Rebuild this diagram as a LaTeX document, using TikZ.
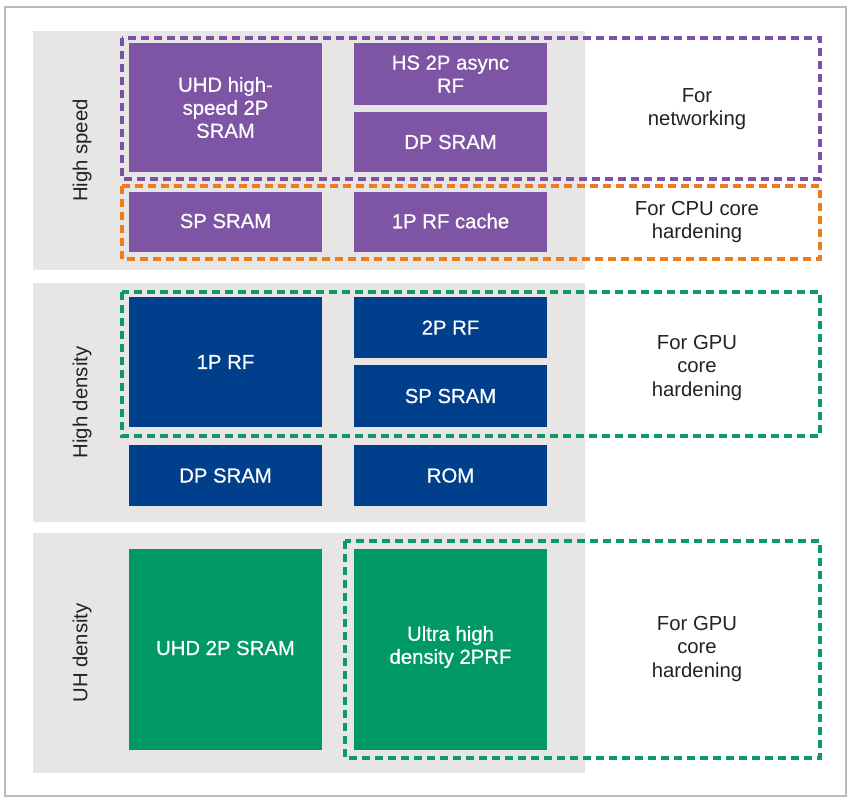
\documentclass[tikz,border=0pt]{standalone}
\usepackage{fontspec}
\setmainfont{Liberation Sans}
\newfontfamily\medfont[FakeBold=0.6]{Liberation Sans}
\definecolor{panelgray}{HTML}{E7E6E4}
\definecolor{borderg}{HTML}{BBBBBB}
\definecolor{hspurple}{HTML}{7D55A4}
\definecolor{hdblue}{HTML}{003F8C}
\definecolor{uhgreen}{HTML}{009966}
\definecolor{dpurple}{HTML}{7B4FAA}
\definecolor{dorange}{HTML}{F07C19}
\definecolor{dgreen}{HTML}{0E9966}
\definecolor{txt}{HTML}{222222}
\tikzset{
  panel/.style={fill=panelgray,draw=none},
  blk/.style={draw=none,text=white,font=\medfont\fontsize{20.3}{23}\selectfont,align=center,inner sep=0pt},
  dbox/.style={line width=3.2pt,dash pattern=on 8pt off 5pt},
  side/.style={text=txt,font=\fontsize{20.3}{23.5}\selectfont,align=center},
  rot/.style={text=txt,font=\fontsize{20.3}{23}\selectfont,rotate=90}
}
\begin{document}
\begin{tikzpicture}[x=1pt,y=-1pt]
\useasboundingbox (0,0) rectangle (850,801);
\draw[borderg,line width=2pt] (5,7) rectangle (846,796);
% panels
\fill[panelgray] (33,31) rectangle (585,270);
\fill[panelgray] (33,283) rectangle (585,522);
\fill[panelgray] (33,533) rectangle (585,773);
\node[rot] (lhs) at (82,150.5) {High speed};
\node[rot] (lhd) at (82,402.5) {High density};
\node[rot] (luh) at (82,653) {UH density};
% high speed blocks
\fill[hspurple] (129,43) rectangle (322,172);
\node[blk] (uhd) at (225.5,107.5) {UHD high-\\speed 2P\\SRAM};
\fill[hspurple] (354,43) rectangle (547,105);
\node[blk] (hs2p) at (450.5,74) {HS 2P async\\RF};
\fill[hspurple] (354,112) rectangle (547,172);
\node[blk] (dp1) at (450.5,142) {DP SRAM};
\fill[hspurple] (129,192) rectangle (322,252);
\node[blk] (sp1) at (225.5,221) {SP SRAM};
\fill[hspurple] (354,192) rectangle (547,252);
\node[blk] (rfc) at (450.5,221) {1P RF cache};
% high density blocks
\fill[hdblue] (129,297) rectangle (322,427);
\node[blk] (rf1p) at (225.5,362) {1P RF};
\fill[hdblue] (354,297) rectangle (547,358);
\node[blk] (rf2p) at (450.5,327.5) {2P RF};
\fill[hdblue] (354,365) rectangle (547,427);
\node[blk] (sp2) at (450.5,396) {SP SRAM};
\fill[hdblue] (129,445) rectangle (322,506);
\node[blk] (dp2) at (225.5,475.5) {DP SRAM};
\fill[hdblue] (354,445) rectangle (547,506);
\node[blk] (rom) at (450.5,475.5) {ROM};
% UH density blocks
\fill[uhgreen] (129,549) rectangle (322,750);
\node[blk] (uhd2p) at (225.5,648) {UHD 2P SRAM};
\fill[uhgreen] (354,549) rectangle (547,750);
\node[blk] (ultra) at (450.5,647) {Ultra high\\density 2PRF};
% dashed groups
\draw[dpurple,dbox] (122,38) rectangle (820,179);
\draw[dorange,dbox] (122,186) rectangle (820,259);
\draw[dgreen,dbox] (122,292) rectangle (820,436);
\draw[dgreen,dbox] (345,541) rectangle (820,758);
% side labels
\node[side] (net) at (697,109) {For\\networking};
\node[side] (cpu) at (697,222) {For CPU core\\hardening};
\node[side] (gpu1) at (697,368) {For GPU\\core\\hardening};
\node[side] (gpu2) at (697,649) {For GPU\\core\\hardening};
\end{tikzpicture}
\end{document}
